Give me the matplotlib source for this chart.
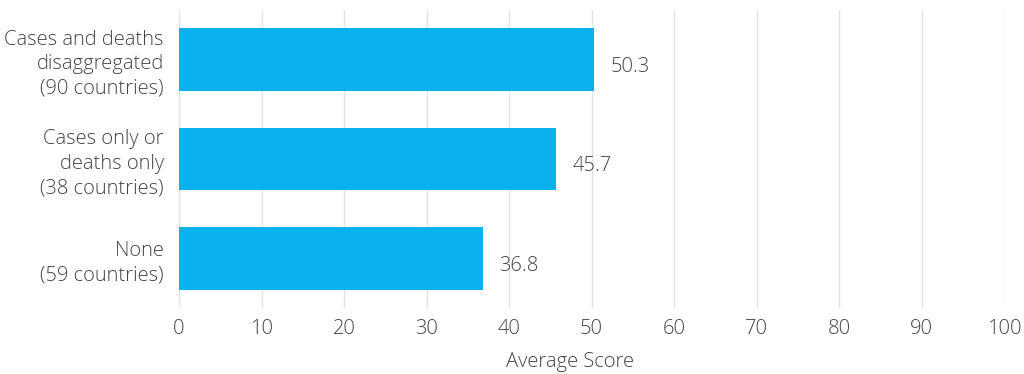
import matplotlib
matplotlib.use('Agg')
import matplotlib.pyplot as plt

categories = ['Cases and deaths\ndisaggregated\n(90 countries)',
              'Cases only or\ndeaths only\n(38 countries)',
              'None\n(59 countries)']
scores = [50.3, 45.7, 36.8]
x_ticks = [0, 10, 20, 30, 40, 50, 60, 70, 80, 90, 100]

plt.rcParams['font.family'] = ['Open Sans', 'DejaVu Sans']

fig = plt.figure(figsize=(10.24, 3.74), dpi=100)
ax = fig.add_axes([179 / 1024, 1 - 308 / 374, 825 / 1024, 298 / 374])

y = list(range(len(categories)))
ax.barh(y, scores, height=0.63, color='#0AB1EC', zorder=3)
for yi, v in zip(y, scores):
    ax.text(v + 2.0, yi + 0.125, f'{v:.1f}', va='baseline', ha='left',
            fontsize=14.5, color='#444444', fontweight='light')

ax.set_ylim(2.5, -0.5)
ax.set_xlim(0, 100)
ax.set_xticks(x_ticks)
ax.set_yticks(y)
ax.set_yticklabels(categories, linespacing=1.3)
ax.tick_params(axis='both', length=0, labelsize=14.5, labelcolor='#444444')
ax.tick_params(axis='y', pad=11)
ax.tick_params(axis='x', pad=8)
for lab in ax.get_xticklabels() + ax.get_yticklabels():
    lab.set_fontweight('light')

ax.grid(axis='x', color='#e3e3e3', linewidth=1, zorder=0)
ax.set_axisbelow(True)
for s in ax.spines.values():
    s.set_visible(False)

ax.set_xlabel('Average Score', fontsize=14.5, color='#444444', fontweight='light', labelpad=9)
ax.xaxis.label.set_x(0.474)

fig.savefig('out.png', dpi=100)
